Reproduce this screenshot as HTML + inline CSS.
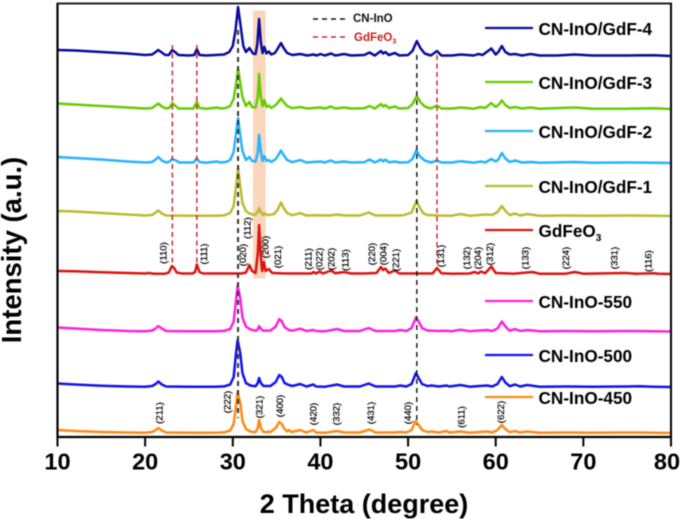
<!DOCTYPE html>
<html lang="en">
<head>
<meta charset="utf-8">
<title>XRD patterns</title>
<style>
html,body{margin:0;padding:0;background:#fff;}
svg{display:block;filter:blur(0.5px);font-family:"Liberation Sans",sans-serif;}
.tick{font-size:23.5px;font-weight:bold;text-anchor:middle;fill:#000;}
.leg{font-size:17.2px;font-weight:bold;fill:#000;}
.hkl{font-size:9.6px;fill:#000;stroke:#000;stroke-width:0.2px;text-anchor:middle;}
</style>
</head>
<body>
<svg id="chart" width="685" height="519" viewBox="0 0 685 519" xmlns="http://www.w3.org/2000/svg">
  <rect x="0" y="0" width="685" height="519" fill="#fff"/>
  <g id="band"></g>
  <g id="series"></g>
  <g id="refs"></g>
  <g id="hkl"></g>
  <g id="axes"></g>
  <text x="364" y="513" text-anchor="middle" font-size="27" font-weight="bold" fill="#000">2 Theta (degree)</text>
  <text transform="translate(21,250) rotate(-90)" text-anchor="middle" font-size="27.5" font-weight="bold" fill="#000">Intensity (a.u.)</text>
  <g>
    <line x1="313" x2="348" y1="19" y2="19" stroke="#111" stroke-width="1.4" stroke-dasharray="5 4"/>
    <text x="353" y="22" font-size="11.5" font-weight="bold" fill="#111">CN-InO</text>
    <line x1="313" x2="348" y1="37" y2="37" stroke="#d0202a" stroke-width="1.4" stroke-dasharray="5 4"/>
    <text x="354" y="41" font-size="11.5" font-weight="bold" fill="#c81e1e">GdFeO<tspan font-size="7" dy="2.5">3</tspan></text>
  </g>
  <g id="legend"></g>
</svg>
<script>
// axis ticks
const xTicks = [10, 20, 30, 40, 50, 60, 70, 80];
// series names, bottom to top
const seriesNames = ["CN-InO-450", "CN-InO-500", "CN-InO-550", "GdFeO3", "CN-InO/GdF-1", "CN-InO/GdF-2", "CN-InO/GdF-3", "CN-InO/GdF-4"];
// vertical stacking offset of each pattern (a.u.)
const seriesOffsets = [4, 50, 105.5, 163, 221, 274, 328, 381];
const seriesColors = ["#ff8a12", "#1212f0", "#ff20e0", "#dc1410", "#b9bc2e", "#25b4ff", "#66cc00", "#0a0a9c"];
const legendHeights = [40, 82, 136, 207, 251, 306, 355, 409];

// [2-theta, intensity] readings for every pattern
const ino450 = [[10,3],[12,2],[15,1],[18,.5],[20,.3],[20.8,1],[21.2,3],[21.5,5],[21.9,2.5],[22.4,.5],[25,.2],[28,.2],[29,.6],[29.7,2.5],[30.1,9],[30.35,26],[30.55,41],[30.85,30],[31.1,12],[31.5,4],[32,1.5],[32.6,.8],[32.85,5],[33,13],[33.2,5],[33.5,1],[34.3,1],[34.9,5],[35.3,11],[35.6,9],[35.9,4],[36.2,1.5],[36.4,3],[36.7,1],[37.7,3],[38.4,.5],[39.2,3],[39.5,.5],[40.5,.2],[41.9,2],[42.7,.5],[44.5,.5],[45.6,3.5],[46.3,.5],[48.5,.5],[49.1,1],[49.8,.5],[50.4,3],[50.85,12],[51.2,8],[51.6,3],[52.2,1],[52.7,1.5],[53.5,.5],[54.4,2],[54.7,.5],[56,1.5],[57,.3],[59,1.5],[59.6,.5],[60.2,3],[60.7,8],[61.1,4],[61.6,.8],[62.2,2],[62.8,.5],[63.6,1.5],[65,.3],[68,.5],[71,.3],[75,.5],[78,.3],[80,0]];
const ino500 = [[10,3.5],[12,2.5],[15,1.3],[18,.5],[20,.3],[20.8,1],[21.2,3],[21.5,5.5],[21.9,2.5],[22.4,.5],[25,.2],[28,.2],[29,.6],[29.7,2.5],[30.1,10],[30.35,32],[30.55,47],[30.85,34],[31.1,14],[31.5,4],[32,1.5],[32.6,.8],[32.85,4],[33,9],[33.2,4],[33.5,1],[34.3,1],[34.9,5],[35.3,12],[35.6,10],[35.9,4],[36.4,2],[36.8,1],[37.7,3],[38.4,.5],[39.2,2.5],[39.5,.5],[40.5,.2],[41.9,2.5],[42.7,.5],[44.5,.5],[45.5,3.5],[46.3,.5],[48.5,.5],[49.1,1.5],[49.8,.5],[50.4,3],[50.9,14],[51.2,9],[51.6,3],[52.2,1],[52.7,1.5],[53.5,.5],[54.4,1.5],[54.7,.5],[56,2],[57,.3],[59,1.5],[59.6,.5],[60.2,3],[60.7,10],[61.1,4.5],[61.6,.8],[62.2,2.5],[62.8,.5],[63.6,2],[65,.3],[68,.5],[71,.3],[75,.5],[76.5,.8],[78,.3],[80,0]];
const ino550 = [[10,4],[12,3],[15,1.5],[18,.5],[20,.3],[20.8,1],[21.2,3],[21.5,5.5],[21.9,3],[22.4,.5],[25,.2],[28,.2],[29,.6],[29.7,2.5],[30.1,10],[30.35,30],[30.55,46],[30.85,33],[31.1,14],[31.5,5],[32,2],[32.6,.8],[32.85,2],[33,5.5],[33.2,2.5],[33.5,.8],[34.3,1],[34.9,5],[35.3,12.5],[35.6,10],[35.9,4.5],[36.4,1.5],[36.8,.8],[37.7,2.8],[38.4,.5],[39.2,1.5],[39.5,.5],[40.5,.2],[41.9,2.5],[42.7,.5],[44.5,.5],[45.5,3.5],[46.3,.5],[48.5,.5],[49.1,1.5],[49.8,.5],[50.4,3.5],[50.9,14],[51.2,10],[51.6,3.5],[52.2,1],[53.5,.5],[54.4,.8],[55,.3],[56,1.8],[57,.3],[59,1.5],[59.6,.5],[60.2,3],[60.7,10],[61.1,5],[61.6,.8],[62.2,2.5],[62.8,.5],[63.6,1.5],[65,.3],[68,.5],[71,.3],[75,.5],[78,.3],[80,0]];
const gdfeo3 = [[10,3],[12,2.8],[15,1.8],[18,1],[20,.5],[20.4,1],[21,.3],[22.3,.3],[22.7,1.5],[23.05,8],[23.3,6],[23.6,1.5],[24.2,.5],[25.4,.5],[25.7,2],[25.9,9.5],[26.2,2],[26.6,.5],[29,.5],[30,.5],[31,.5],[31.5,1.5],[31.9,9],[32.2,3],[32.6,1],[32.85,20],[33,49],[33.2,18],[33.35,3],[33.55,12],[33.75,3],[34.1,5],[34.5,1],[36,.5],[39,.5],[39.2,2],[39.5,.5],[39.9,2.5],[40.3,.5],[41.2,3.5],[41.7,.8],[42.7,2],[43.5,.5],[45,.5],[46.4,1],[46.9,7],[47.15,4],[47.4,5.5],[47.8,1],[48.5,3.5],[49,.5],[51,.5],[52.8,.5],[53.3,6],[53.8,.8],[55,.3],[57,.5],[57.6,2],[58,.5],[58.3,2.5],[58.8,.8],[59.5,7.5],[60,1],[62,.3],[64.2,2],[65,.3],[68,.3],[69,2],[70,.3],[74.8,1],[76,.2],[78,.8],[78.6,.3],[80,0]];
const gdf1 = [[10,5],[12,4.5],[15,3],[18,1.5],[20,.5],[20.8,1],[21.2,3.5],[21.5,5.5],[21.9,2.5],[22.4,.5],[25,.3],[28,.3],[29,.6],[29.7,3],[30.1,10],[30.35,28],[30.6,48],[30.85,30],[31.1,13],[31.5,5],[31.9,2.5],[32.5,1],[32.85,4],[33,8],[33.2,4],[33.5,1],[33.65,2.5],[34,.8],[34.7,2],[35.1,6],[35.5,13.5],[35.8,8],[36.2,3],[36.8,.8],[37.7,2.8],[38.4,.5],[39.2,.8],[41,.5],[41.9,1.5],[42.7,.5],[44.5,.5],[45.5,3.5],[46.3,.5],[48.5,.5],[49.5,.8],[50.4,3.5],[50.95,15],[51.3,9],[51.7,3],[52.2,1],[53.5,.5],[55,.3],[56,2],[57,.3],[59,1.5],[59.6,1],[60.2,4],[60.7,10],[61.1,5],[61.6,1],[62.2,2.5],[62.8,.5],[63.6,2],[65,.3],[68,.5],[71,.3],[75,.5],[78,.3],[80,0]];
const gdf2 = [[10,6],[12,5],[15,3.5],[18,1.5],[20,.5],[20.8,1],[21.2,3.5],[21.5,6],[21.9,2.5],[22.4,.5],[22.8,1.5],[23.1,4],[23.5,2.5],[23.9,.5],[25.5,.5],[25.9,4.5],[26.2,1],[27,.3],[28.2,1.5],[28.6,.5],[29.2,1],[29.7,3],[30.1,11],[30.35,28],[30.6,45],[30.85,28],[31.1,12],[31.5,3],[31.9,6],[32.2,2],[32.6,1.5],[32.85,10],[33,28],[33.2,12],[33.4,2],[33.6,7],[33.85,2],[34.1,3],[34.4,1],[34.9,4],[35.2,8],[35.5,12.5],[35.8,8],[36.2,3],[36.8,.8],[37.7,3],[38.4,.5],[39.2,1],[40,1.5],[40.5,.5],[41.2,2.5],[41.7,.5],[42.7,1.5],[43.5,.5],[45,.8],[45.6,3.5],[46.2,.5],[46.9,3.5],[47.15,1.5],[47.4,3.5],[47.8,.8],[48.5,1.5],[49,.5],[50,.8],[50.5,4],[50.95,13],[51.3,7],[51.9,2.5],[52.6,.5],[53.3,2.5],[53.8,.5],[55,.5],[56,1.8],[57.5,.3],[58.3,1.5],[58.8,.5],[59.5,4],[60,1.5],[60.3,3.5],[60.7,10],[61.1,4.5],[61.6,1],[62.2,2.5],[63,.5],[64,1],[65,.3],[69,1],[71,.3],[75,.5],[78,.3],[80,0]];
const gdf3 = [[10,5.5],[12,4.5],[15,3],[18,1.5],[20,.5],[20.8,1],[21.2,3.5],[21.5,5.5],[21.9,2.5],[22.4,.5],[22.8,1.5],[23.1,6],[23.4,3.5],[23.8,.5],[25.5,.5],[25.9,7],[26.2,1],[27,.3],[28.2,1.5],[28.6,.5],[29.2,1],[29.7,3],[30.1,10],[30.35,24],[30.6,40],[30.85,26],[31.1,12],[31.5,3],[31.9,7],[32.2,2],[32.6,1.5],[32.85,12],[33,35],[33.2,12],[33.4,3],[33.6,9],[33.85,2],[34.1,3.5],[34.4,1],[34.9,4],[35.2,7],[35.5,10.5],[35.8,7],[36.2,3],[36.8,.8],[37.7,2],[38.5,.5],[39.2,1],[40,1.5],[40.5,.5],[41.2,2.5],[41.7,.5],[42.7,1.5],[43.5,.5],[45,.8],[45.6,3],[46.2,.5],[46.9,5],[47.15,2.5],[47.4,4],[47.8,1],[48.5,2.5],[49,.5],[50,1],[50.5,5],[51,13],[51.4,7],[51.9,2.5],[52.6,.5],[53.3,3.5],[53.8,.5],[55,.5],[56,1.5],[57.5,.3],[58.3,2],[58.8,1],[59.5,6],[60,2],[60.3,4],[60.7,8.5],[61.1,4],[61.6,1],[62.2,2],[63,.5],[64,1.5],[65,.3],[69,1.5],[71,.3],[75,.3],[78,.8],[80,0]];
const gdf4 = [[10,6],[12,5.5],[15,4],[18,2.5],[20,1],[20.8,1.5],[21.2,4],[21.5,6],[21.9,3.5],[22.3,1],[22.7,1],[23.1,6],[23.4,4],[23.8,1],[25,.5],[25.6,1],[25.9,7],[26.2,1],[27,.5],[28,1],[29,1.5],[29.6,4],[30,10],[30.3,25],[30.6,49],[30.9,30],[31.2,10],[31.5,4],[31.9,8],[32.3,2.5],[32.6,2],[32.8,12],[33,37],[33.2,14],[33.4,3],[33.6,9],[33.85,2.5],[34.1,4.5],[34.4,1.5],[34.8,3],[35.1,7],[35.5,13],[35.8,8],[36.2,3],[36.8,1],[37.7,2],[38.5,.5],[39.2,1.5],[39.6,.5],[40,2],[40.5,.5],[41.2,2.5],[41.7,.5],[42.7,2],[43.5,.5],[45,1],[45.6,3.5],[46.2,.5],[46.9,5],[47.15,2.5],[47.4,4],[47.8,1],[48.5,3],[49,.5],[50,1],[50.5,5],[51,15],[51.4,8],[51.9,2.5],[52.6,.5],[53.3,5],[53.8,.5],[55,.5],[56,1.5],[57.5,.5],[58,2],[58.5,1],[59.5,7.5],[60,1.5],[60.3,4],[60.7,10],[61.1,4],[61.6,1.5],[62.2,2],[63,.5],[64,2],[65,.5],[67,.5],[69,1.5],[71,.5],[75,.5],[78,.8],[80,0]];
const seriesData = [ino450, ino500, ino550, gdfeo3, gdf1, gdf2, gdf3, gdf4];

// reference peak positions (2-theta)
const cnInORefs = [30.6, 51];
const gdFeRefs = [23.1, 25.9, 53.3];
// highlighted 2-theta band
const bandRange = [32.3, 33.75];

// miller-index annotations
const hklNames = ["(110)","(111)","(020)","(112)","(200)","(021)","(211)","(022)","(202)","(113)","(220)","(004)","(221)","(131)","(132)","(204)","(312)","(133)","(224)","(331)","(116)","(211)","(222)","(321)","(400)","(420)","(332)","(431)","(440)","(611)","(622)"];
const hklThetas = [22.05,26.7,31.15,31.65,33.7,35.15,38.6,39.85,41.25,42.85,45.85,47.2,48.6,53.75,56.7,57.95,59.3,63.4,68,73.55,77.4,21.6,29.4,33.05,35.35,39.2,41.8,45.75,49.95,56.05,60.6];
const hklLevels = [184,183,182,209,190,180,178,178,178,177,183,183,177,181,179,179,183,179,179,179,176,24,35,30,31,23,23,24,24,20,25];

const svgNS = "http://www.w3.org/2000/svg";
const plot = { left: 57.5, right: 671, top: 3.5, bottom: 437 };
function xScale(t) { return plot.left + (t - 10) * (plot.right - plot.left) / 70; }
function yScale(v) { return plot.bottom - v; }
function mk(tag, parent, attrs) {
  const el = document.createElementNS(svgNS, tag);
  for (const k in attrs) el.setAttribute(k, attrs[k]);
  parent.appendChild(el);
  return el;
}

const bandG = document.getElementById("band");
const bandRect = mk("rect", bandG, { x: xScale(bandRange[0]), y: 10.5, width: xScale(bandRange[1]) - xScale(bandRange[0]), height: 268, fill: "#fbd6bd" });



const seriesG = document.getElementById("series");
seriesData.forEach(function (pts, i) {
  const d = pts.map(function (p) { return xScale(p[0]).toFixed(2) + "," + yScale(seriesOffsets[i] + p[1]).toFixed(2); }).join(" ");
  const line = mk("polyline", seriesG, { points: d, fill: "none", stroke: seriesColors[i], "stroke-width": 2.5, "stroke-linejoin": "round" });
  
  
});

const refsG = document.getElementById("refs");
cnInORefs.forEach(function (t, i) {
  const l = mk("line", refsG, { x1: xScale(t), x2: xScale(t), y1: i === 0 ? 30 : 55, y2: i === 0 ? 418 : 425, stroke: i === 0 ? "#333" : "#111", "stroke-width": i === 0 ? 2 : 1.4, "stroke-dasharray": "5 4" });
  
  
});
gdFeRefs.forEach(function (t, i) {
  const l = mk("line", refsG, { x1: xScale(t), x2: xScale(t), y1: i === 2 ? 55 : 45, y2: 265, stroke: "#c4202a", "stroke-width": 1.4, "stroke-dasharray": "5 3.5" });
  
  
});

const hklG = document.getElementById("hkl");
hklNames.forEach(function (name, i) {
  const x = xScale(hklThetas[i]);
  const y = yScale(hklLevels[i]);
  const t = mk("text", hklG, { "class": "hkl", transform: "translate(" + (x + 3.2).toFixed(1) + "," + y.toFixed(1) + ") rotate(-90)" });
  t.textContent = name;
  
  
});

const axesG = document.getElementById("axes");
const frameTop = mk("line", axesG, { x1: plot.left - 1, x2: plot.right + 1, y1: plot.top, y2: plot.top, stroke: "#222", "stroke-width": 2 });


const frameRight = mk("line", axesG, { x1: plot.right, x2: plot.right, y1: plot.top, y2: plot.bottom, stroke: "#000", "stroke-width": 2 });


const frameLeft = mk("line", axesG, { x1: plot.left, x2: plot.left, y1: plot.top, y2: plot.bottom + 1, stroke: "#000", "stroke-width": 2.2 });


const frameBottom = mk("line", axesG, { x1: plot.left - 1, x2: plot.right + 1, y1: plot.bottom, y2: plot.bottom, stroke: "#000", "stroke-width": 2.2 });


xTicks.forEach(function (t) {
  const m = mk("line", axesG, { x1: xScale(t), x2: xScale(t), y1: plot.bottom, y2: 446.5, stroke: "#000", "stroke-width": 2 });
  
  
  const lbl = mk("text", axesG, { "class": "tick", x: Math.min(xScale(t), 667), y: 469.5 });
  lbl.textContent = t;
  
  
});

const legendG = document.getElementById("legend");
seriesNames.forEach(function (name, i) {
  const ly = yScale(legendHeights[i]);
  const l = mk("line", legendG, { x1: 485, x2: 533, y1: ly, y2: ly, stroke: seriesColors[i], "stroke-width": 2.3 });
  
  
  const t = mk("text", legendG, { "class": "leg", x: 538.5, y: ly + 7 });
  if (name === "GdFeO3") {
    t.textContent = "GdFeO";
    const sub = mk("tspan", t, { "font-size": "10", dy: "4" });
    sub.textContent = "3";
    
    
  } else {
    t.textContent = name;
  }
  
  
});
</script>
</body>
</html>
